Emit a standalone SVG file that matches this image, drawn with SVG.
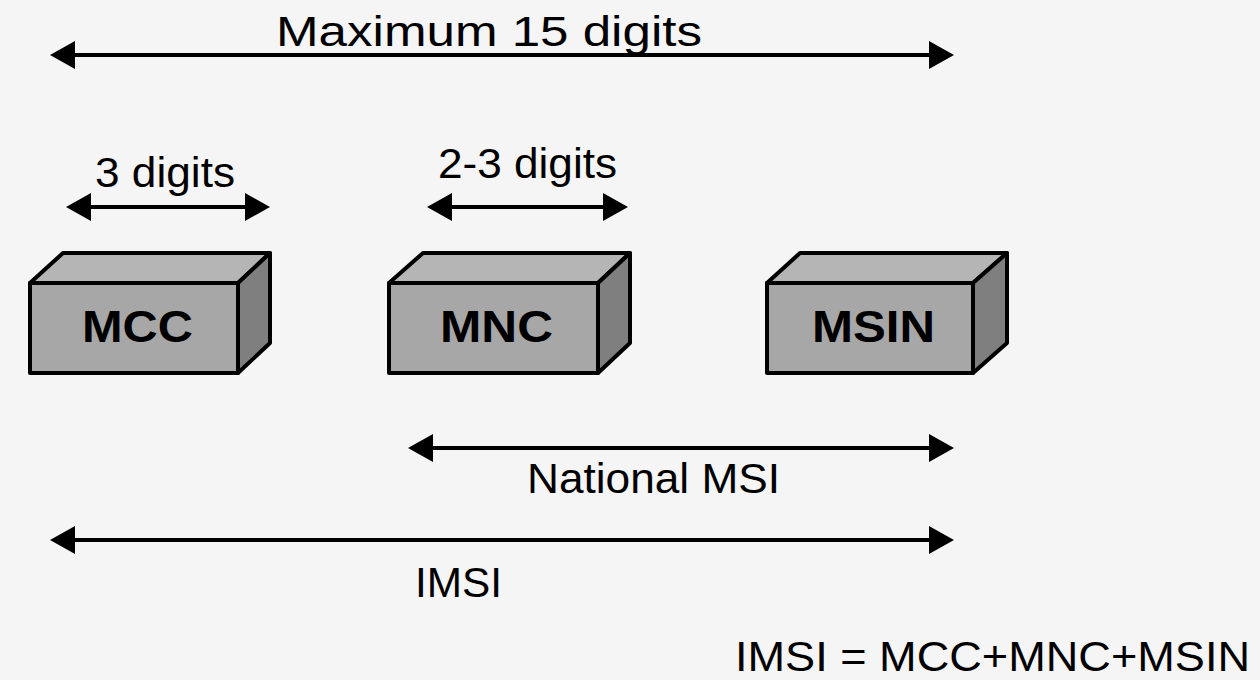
<svg xmlns="http://www.w3.org/2000/svg" width="1260" height="680" viewBox="0 0 1260 680">
  <style>
    .lbl { font-family: "Liberation Sans", Arial, sans-serif; font-size: 42px; fill: #000; }
    .box-text { font-family: "Liberation Sans", Arial, sans-serif; font-size: 45px; font-weight: bold; fill: #000; }
    .front { fill: #a7a7a7; stroke: #000; stroke-width: 4; stroke-linejoin: round; }
    .top { fill: #b5b5b5; stroke: #000; stroke-width: 4; stroke-linejoin: round; }
    .side { fill: #7f7f7f; stroke: #000; stroke-width: 4; stroke-linejoin: round; }
    .conn { stroke: #000; stroke-width: 4; fill: none; marker-start: url(#arr); marker-end: url(#arr); }
  </style>
  <defs>
    <marker id="arr" markerUnits="userSpaceOnUse" viewBox="0 0 25 28" refX="5" refY="14" markerWidth="25" markerHeight="28" orient="auto-start-reverse">
      <path d="M0,0 L25,14 L0,28 z" fill="#000"/>
    </marker>
  </defs>
  <rect width="1260" height="680" fill="#f5f5f5"/>

  <g id="connectors">
    <line class="conn" x1="70" y1="55" x2="934" y2="55"/>
    <line class="conn" x1="86" y1="207" x2="250" y2="207"/>
    <line class="conn" x1="447" y1="207" x2="608" y2="207"/>
    <line class="conn" x1="428" y1="448" x2="934" y2="448"/>
    <line class="conn" x1="70" y1="540" x2="934" y2="540"/>
  </g>

  <g id="labels">
    <text class="lbl" x="276" y="46" font-size="44" textLength="426" lengthAdjust="spacingAndGlyphs">Maximum 15 digits</text>
    <text class="lbl" x="95" y="187" font-size="37" textLength="140" lengthAdjust="spacingAndGlyphs">3 digits</text>
    <text class="lbl" x="438" y="178" font-size="37" textLength="179" lengthAdjust="spacingAndGlyphs">2-3 digits</text>
    <text class="lbl" x="527" y="493" font-size="41" textLength="253" lengthAdjust="spacingAndGlyphs">National MSI</text>
    <text class="lbl" x="415" y="597" font-size="41" textLength="87" lengthAdjust="spacingAndGlyphs">IMSI</text>
    <text class="lbl" x="735" y="671" font-size="39" textLength="515" lengthAdjust="spacingAndGlyphs">IMSI = MCC+MNC+MSIN</text>
  </g>

  <g id="mcc">
    <polygon class="top" points="30,283 63,253 270,253 238,283"/>
    <polygon class="side" points="238,283 270,253 270,343 238,373"/>
    <rect class="front" x="30" y="283" width="208" height="90"/>
    <text class="box-text" x="82" y="342" textLength="111" lengthAdjust="spacingAndGlyphs">MCC</text>
  </g>

  <g id="mnc">
    <polygon class="top" points="389,283 423,253 630,253 598,283"/>
    <polygon class="side" points="598,283 630,253 630,343 598,373"/>
    <rect class="front" x="389" y="283" width="209" height="90"/>
    <text class="box-text" x="440" y="342" textLength="113" lengthAdjust="spacingAndGlyphs">MNC</text>
  </g>

  <g id="msin">
    <polygon class="top" points="767,283 800,253 1007,253 973,283"/>
    <polygon class="side" points="973,283 1007,253 1007,343 973,373"/>
    <rect class="front" x="767" y="283" width="206" height="90"/>
    <text class="box-text" x="812" y="342" textLength="123" lengthAdjust="spacingAndGlyphs">MSIN</text>
  </g>
</svg>
